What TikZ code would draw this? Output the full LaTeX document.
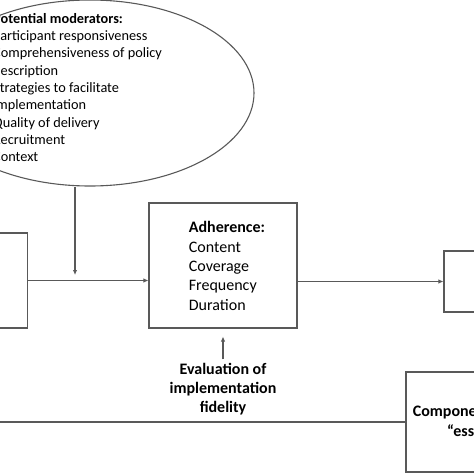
\documentclass[tikz,border=0pt]{standalone}
\usepackage{fontspec}
\setmainfont{Carlito}
\usetikzlibrary{arrows.meta, shapes.geometric, calc}

\definecolor{linegray}{HTML}{595959}
\tikzset{
  frame/.style={draw=linegray, line width=1.1pt},
  flow/.style={draw=linegray, line width=1.1pt, -{Latex[length=5pt, width=4.5pt]}},
  listfont/.style={font=\fontsize{14.3}{17.3}\selectfont},
  boxfont/.style={font=\fontsize{16}{19.3}\selectfont},
}

\begin{document}
\begin{tikzpicture}[x=1pt, y=-1pt]
  \clip (0,0) rectangle (474,474);

  % Moderators ellipse
  \node[frame, ellipse, minimum width=328pt, minimum height=186pt, inner sep=0pt] (moder) at (90,93) {};
  \node[listfont, anchor=north west, align=left, inner sep=0pt] (modtext) at (-7,13)
    {\textbf{Potential moderators:}\\
     Participant responsiveness\\
     Comprehensiveness of policy\\
     description\\
     Strategies to facilitate\\
     implementation\\
     Quality of delivery\\
     Recruitment\\
     Context};

  % Boxes
  \node[frame, minimum width=87pt, minimum height=95pt] (interv) at (-16,280.5) {};
  \node[frame, minimum width=148pt, minimum height=125pt] (adh) at (223,265.5) {};
  \node[boxfont, align=left] (adhtext) at (227,266)
    {\textbf{Adherence:}\\Content\\Coverage\\Frequency\\Duration};
  \node[frame, minimum width=100pt, minimum height=61pt] (outc) at (494,281.5) {};
  \node[frame, boxfont, minimum width=220pt, minimum height=100pt, align=center] (comp) at (516,422)
    {\textbf{Component analysis to identify}\\\hspace*{20pt}\textbf{“essential components”}};

  % Evaluation label
  \node[boxfont, align=center] (evaltext) at (223,389)
    {\textbf{Evaluation of}\\\textbf{implementation}\\\textbf{fidelity}};

  % Connectors
  \coordinate (modfoot) at (75,275);
  \coordinate (feed) at (-20,422);
  \draw[flow] (moder.south -| modfoot) -- (modfoot);
  \draw[flow] (interv.east) -- (interv.east -| adh.west);
  \draw[flow] (outc.west -| adh.east) -- (outc.west);
  \draw[flow, shorten >=8pt] (evaltext.north) -- (adh.south);
  \draw[frame] (feed) -- (comp.west);
\end{tikzpicture}
\end{document}
